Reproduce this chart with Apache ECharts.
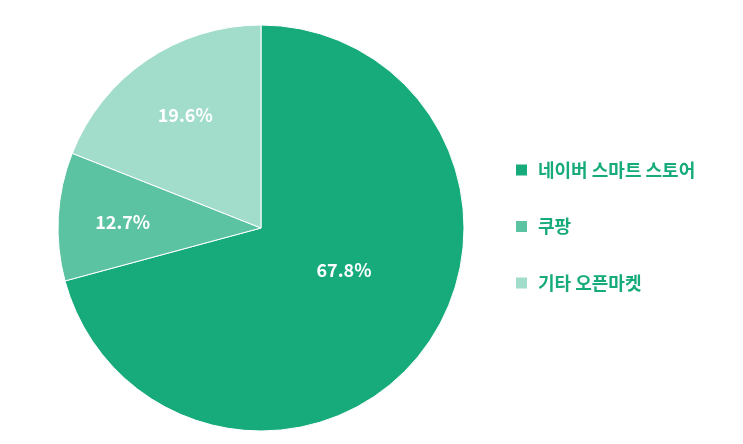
<!DOCTYPE html>
<html><head><meta charset="utf-8">
<script src="https://cdn.jsdelivr.net/npm/echarts@6/dist/echarts.min.js"></script>
<style>html,body{margin:0;padding:0;background:#fff}#c{width:743px;height:444px}</style>
</head><body><div id="c"></div>
<script>
const categories = ['네이버 스마트 스토어', '쿠팡', '기타 오픈마켓'];
// slice sizes as drawn in the picture
const sliceValues = [70.8, 10.2, 19.0];
// percentages printed on the slices
const labelTexts = ['67.8%', '12.7%', '19.6%'];
const colors = ['#17ab7c', '#5bc3a1', '#a2ddcb'];
const labelOffsets = [[0, -21], [-34, 0], [-17, -26]];

const chart = echarts.init(document.getElementById('c'));
chart.setOption({
  animation: false,
  color: colors,
  legend: {
    orient: 'vertical',
    left: 514,
    top: 160,
    padding: 0,
    itemWidth: 13,
    itemHeight: 13,
    itemGap: 36.5,
    icon: 'rect',
    data: categories,
    textStyle: { color: '#17ab7c', fontSize: 18, fontWeight: 'bold', lineHeight: 20,
      fontFamily: 'Noto Sans CJK KR', padding: [0, 0, 0, 5] },
    selectedMode: false
  },
  series: [{
    type: 'pie',
    center: [261, 228],
    radius: 203,
    startAngle: 90,
    clockwise: true,
    itemStyle: { borderColor: '#fff', borderWidth: 1 },
    label: { position: 'inside', color: '#fff', fontSize: 18, fontWeight: 'bold',
      fontFamily: 'Noto Sans CJK KR' },
    labelLine: { show: false },
    emphasis: { disabled: true },
    data: categories.map((n, i) => ({
      name: n, value: sliceValues[i],
      label: { formatter: labelTexts[i], offset: labelOffsets[i] }
    }))
  }]
});
</script></body></html>
